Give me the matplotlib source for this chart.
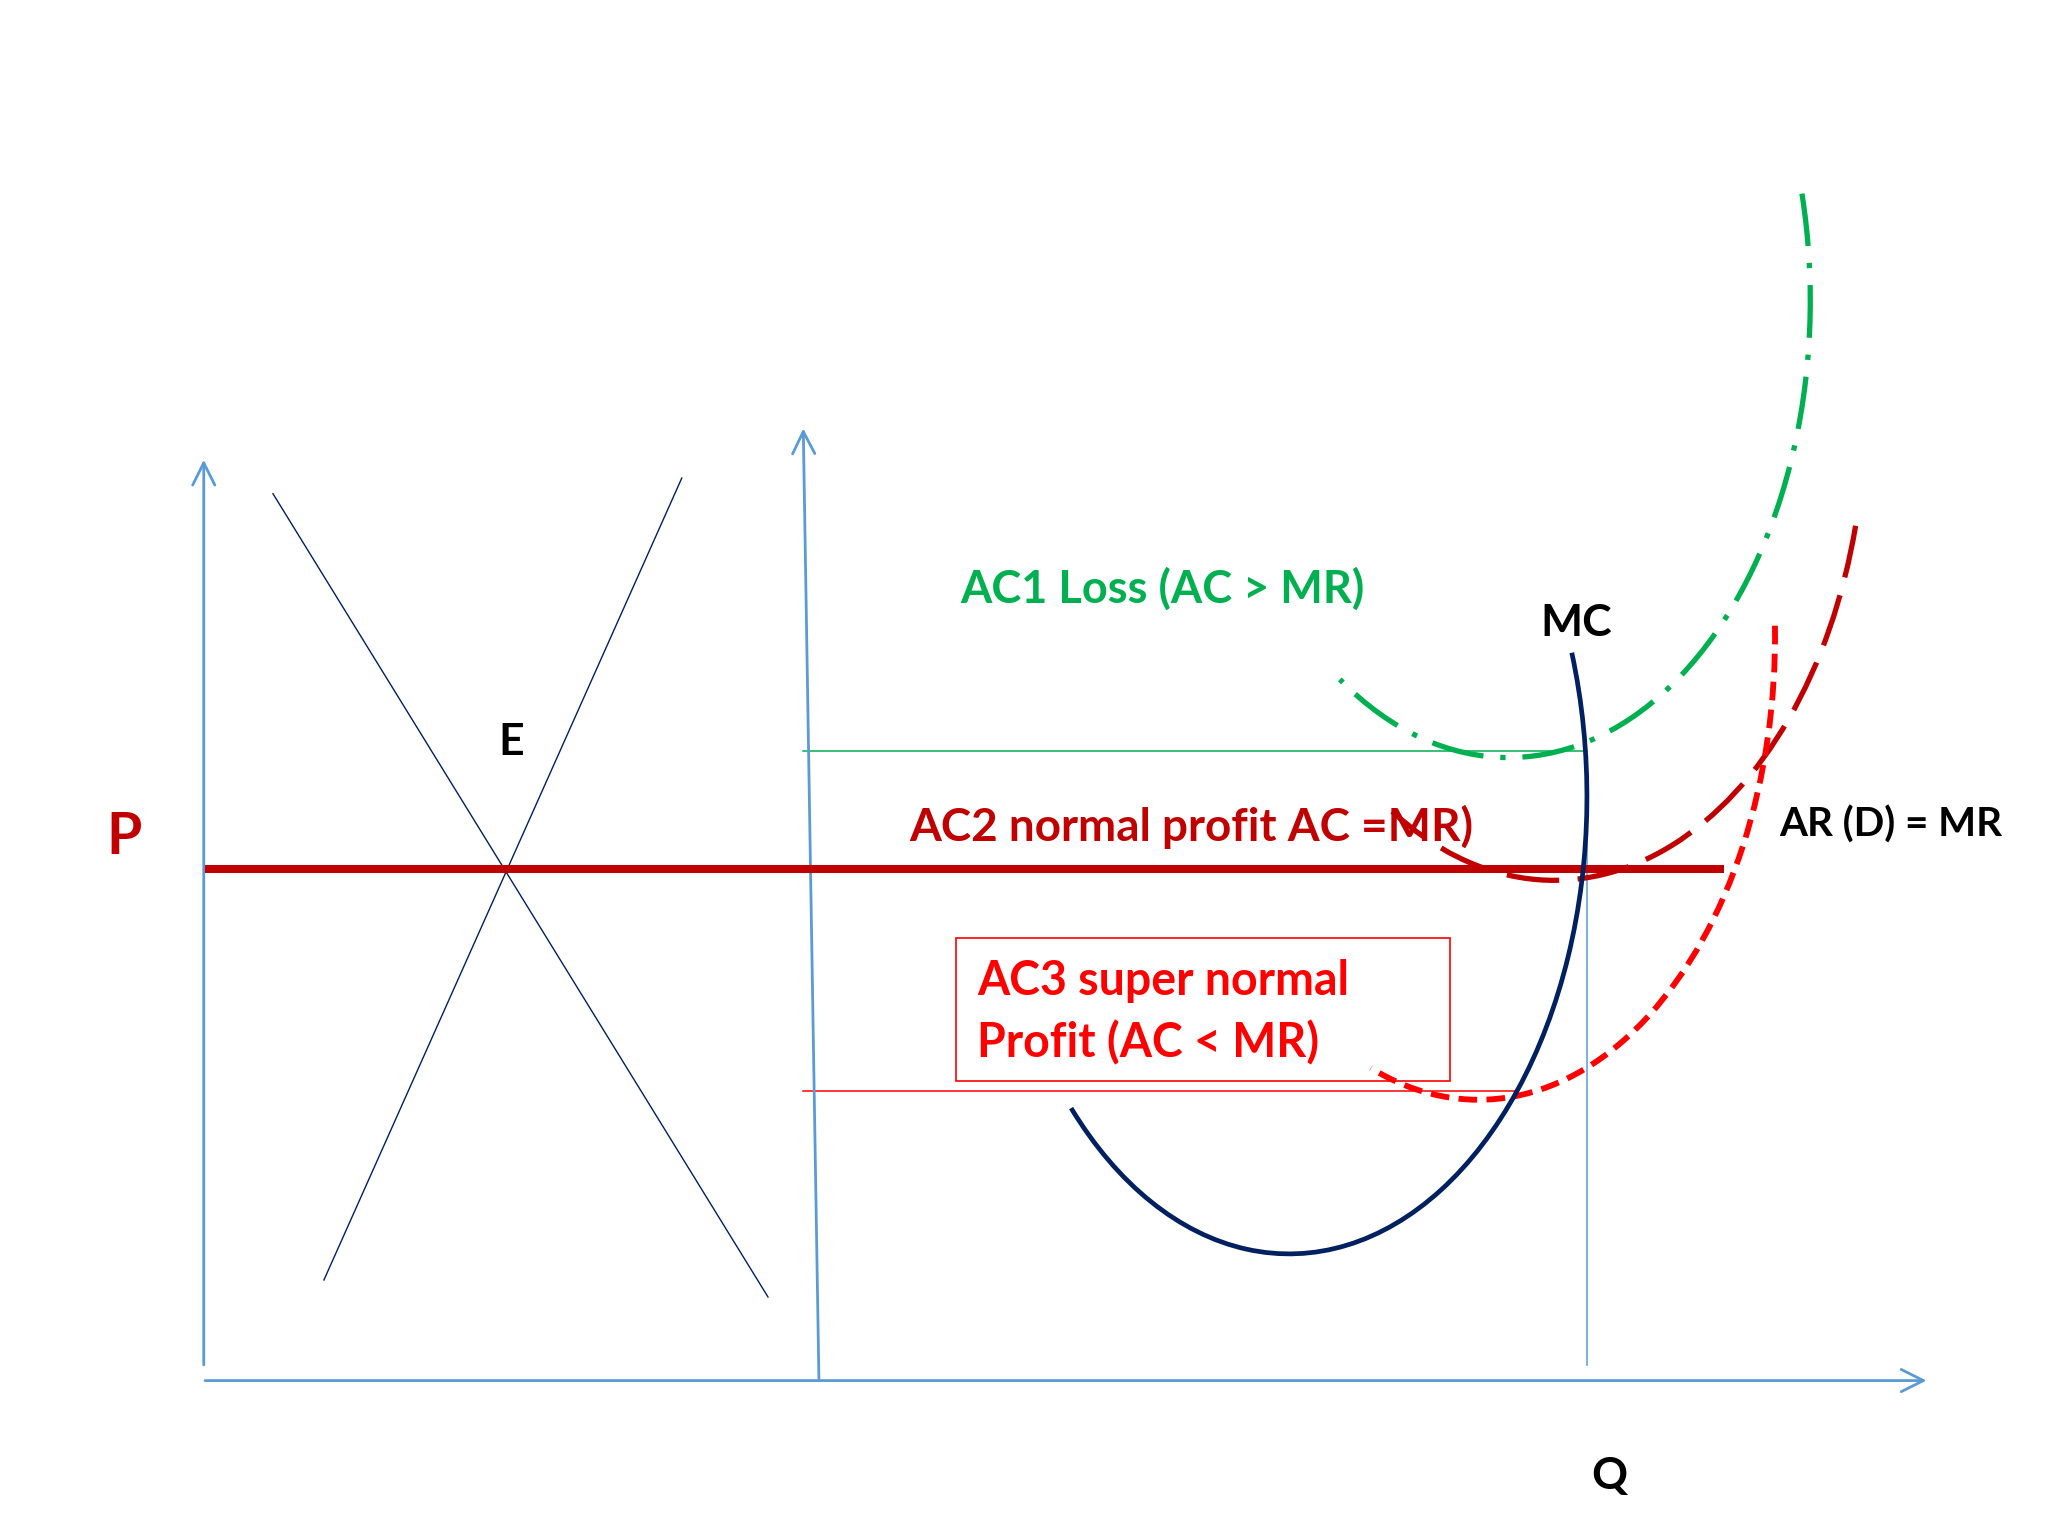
import matplotlib
matplotlib.use("Agg")
import matplotlib.pyplot as plt
from matplotlib.patches import Arc, Rectangle

plt.rcParams['font.family'] = ['Lato', 'DejaVu Sans']

W, H = 1568, 1176

# axes of the two panels
left_axis_x = [156, 156]
left_axis_y = [1045, 352]
mid_axis_x = [627, 615]
mid_axis_y = [1057, 328]
q_axis_x = [157, 1475]
q_axis_y = [1057, 1057]

# market panel: demand and supply
demand_x = [209, 588]
demand_y = [378, 993]
supply_x = [248, 522]
supply_y = [980, 366]

# market price P = AR = MR
price = 665
price_x = [157, 1320]

# cost levels and equilibrium output
ac1_level = 575
ac1_x = [615, 1215]
ac3_level = 835
ac3_x = [615, 1160]
q_star = 1215
q_star_y = [580, 1045]

# cost curves as ellipse arcs: centre x, centre y, width, height, theta1, theta2
mc_arc = (987, 610, 456, 700, -27, 125)
ac1_arc = (1155, 230, 462, 700, -20, 114)
ac2_arc = (1190, 314, 476, 720, 21, 112)
ac3_arc = (1132, 487, 454, 710, -2, 104)

# colours
blue = '#5B9BD5'
navy = '#002060'
dark_red = '#C00000'
red = '#FF0000'
green = '#00B050'

fig = plt.figure(figsize=(20.48, 15.36), dpi=100)
ax = fig.add_axes([0, 0, 1, 1])
ax.set_xlim(0, W)
ax.set_ylim(H, 0)
ax.axis('off')

# axes with open arrow heads
arrow = dict(arrowstyle='->,head_length=0.8,head_width=0.4', color=blue,
             lw=2, mutation_scale=20, shrinkA=0, shrinkB=0)
ax.annotate('', xy=(left_axis_x[1], left_axis_y[1]),
            xytext=(left_axis_x[0], left_axis_y[0]), arrowprops=arrow)
ax.annotate('', xy=(mid_axis_x[1], mid_axis_y[1]),
            xytext=(mid_axis_x[0], mid_axis_y[0]), arrowprops=arrow)
ax.annotate('', xy=(q_axis_x[1], q_axis_y[1]),
            xytext=(q_axis_x[0], q_axis_y[0]), arrowprops=arrow)

# demand & supply
ax.plot(demand_x, demand_y, color=navy, lw=1)
ax.plot(supply_x, supply_y, color=navy, lw=1)

# thin guide lines
ax.plot(ac1_x, [ac1_level, ac1_level], color=green, lw=1.1)
ax.plot(ac3_x, [ac3_level, ac3_level], color=red, lw=1.1)
ax.plot([q_star, q_star], q_star_y, color=blue, lw=1.1)

# price line
ax.plot(price_x, [price, price], color=dark_red, lw=5.8, solid_capstyle='butt', zorder=3)


def arc(p, **kw):
    cx, cy, w, h, t1, t2 = p
    ax.add_patch(Arc((cx, cy), w, h, theta1=t1, theta2=t2, **kw))


arc(ac1_arc, color=green, lw=3.8, linestyle=(0, (10, 3.2, 1, 3.2)), zorder=2)
arc(ac2_arc, color=dark_red, lw=3.8, linestyle=(0, (10, 3.5)), zorder=2)
arc(ac3_arc, color=red, lw=4.2, linestyle=(0, (3.2, 1.6)), zorder=2)
arc(mc_arc, color=navy, lw=3.4, zorder=4)

# AC3 box
ax.add_patch(Rectangle((732, 718), 378, 110, fill=False, edgecolor=red, lw=1.2))

# labels
ax.text(95, 641, 'P', color=dark_red, fontsize=41, fontweight='bold', ha='center', va='center')
ax.text(391, 568, 'E', color='black', fontsize=32, fontweight='bold', ha='center', va='center')
ax.text(1207, 477, 'MC', color='black', fontsize=32, fontweight='bold', ha='center', va='center')
ax.text(1232, 1130, 'Q', color='black', fontsize=32, fontweight='bold', ha='center', va='center')
ax.text(735, 451, 'AC1 Loss (AC > MR)', color=green, fontsize=32.5, fontweight='bold',
        ha='left', va='center')
ax.text(696, 633, 'AC2 normal profit AC =MR)', color=dark_red, fontsize=33,
        fontweight='bold', ha='left', va='center')
ax.text(1362, 631, 'AR (D) = MR', color='black', fontsize=29, fontweight='bold',
        ha='left', va='center')
ax.text(748, 775, 'AC3 super normal\nProfit (AC < MR)', color=red, fontsize=33.5,
        fontweight='bold', ha='left', va='center', linespacing=1.45)

fig.savefig('out.png', dpi=100)
